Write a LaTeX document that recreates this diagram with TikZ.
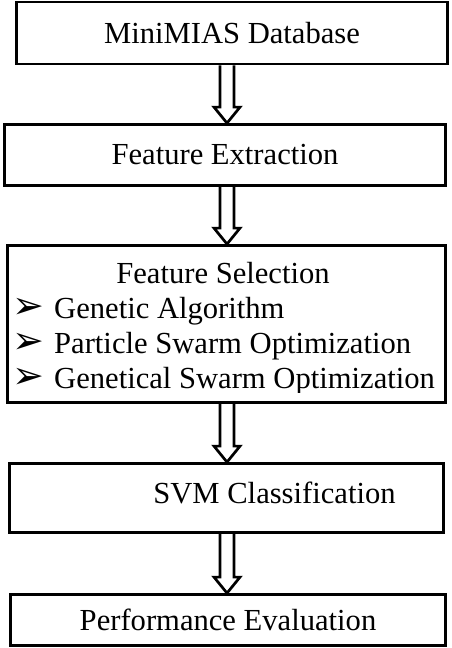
\documentclass[tikz,border=0pt]{standalone}
\usepackage{fontspec}
\setmainfont{Liberation Serif}
\newfontfamily\bulfont{DejaVu Sans}
\usetikzlibrary{calc}
\tikzset{
  box/.style={draw=black, line width=2.8pt, inner sep=0pt, font=\fontsize{30.6}{35}\selectfont},
  txt/.style={inner sep=0pt, font=\fontsize{30.6}{35}\selectfont},
  bul/.style={inner sep=0pt, font=\bulfont\fontsize{38}{38}\selectfont},
  blockarrow/.style={draw=black, line width=2.7pt, line join=miter},
}
\begin{document}
\begin{tikzpicture}[x=1pt,y=-1pt]
\useasboundingbox (0,0) rectangle (452,648);
\coordinate (axis) at (227,0);
% boxes
\node[box, minimum width=431pt, minimum height=62pt] (db) at (232,33) {MiniMIAS Database};
\node[box, minimum width=441pt, minimum height=61pt] (fe) at (225,155) {Feature Extraction};
\node[box, minimum width=438pt, minimum height=157pt] (fs) at (226.5,324) {};
\node[box, minimum width=434pt, minimum height=69pt, text height=20pt, text depth=10pt] (svm) at (226.5,498) {\hspace*{96pt}SVM Classification};
\node[box, minimum width=435pt, minimum height=51pt] (pe) at (228,620) {Performance Evaluation};
% feature selection contents
\node[txt, anchor=base] (fst) at (223,283) {Feature Selection};
\begin{scope}
\clip (fs.north west) rectangle ($(fs.east |- 0,392)$);
\node[bul, anchor=base west] (b1) at (12,318) {➢};
\node[txt, anchor=base west] (l1) at (54,318) {Genetic Algorithm};
\node[bul, anchor=base west] (b2) at (12,353) {➢};
\node[txt, anchor=base west] (l2) at (54,353) {Particle Swarm Optimization};
\node[bul, anchor=base west] (b3) at (12,388) {➢};
\node[txt, anchor=base west] (l3) at (54,388) {Genetical Swarm Optimization};
\end{scope}
% block arrows
\foreach \a/\b in {db/fe, fe/fs, fs/svm, svm/pe}{
  \draw[blockarrow]
    ($(\a.south -| axis)+(-7,0)$) -- ($(\b.north -| axis)+(-7,-16)$) -- ($(\b.north -| axis)+(-13,-16)$)
    -- (\b.north -| axis) -- ($(\b.north -| axis)+(13,-16)$) -- ($(\b.north -| axis)+(7,-16)$)
    -- ($(\a.south -| axis)+(7,0)$);
}
\end{tikzpicture}
\end{document}
